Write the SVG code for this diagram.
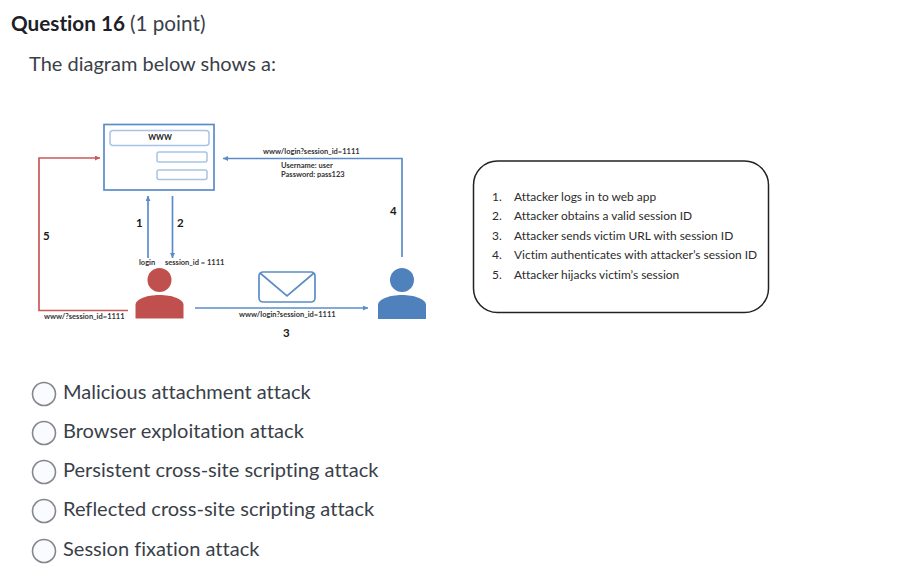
<svg xmlns="http://www.w3.org/2000/svg" width="900" height="573" viewBox="0 0 900 573">
<style>
text{font-family:Lato,"Open Sans",sans-serif;font-variant-ligatures:none}
.b{fill:none;stroke:#5b8cc8;stroke-width:1.7}
.bl{fill:none;stroke:#a9c3e6;stroke-width:1.5}
.r{fill:none;stroke:#c9585a;stroke-width:1.7}
.t{font-size:7.500px;fill:#333;font-weight:700}
.n{font-size:11.500px;fill:#1a1a1a;font-weight:700}
.l{font-size:11.950px;fill:#2b2b2b}
.o{font-size:20.050px;fill:#3a3f4a}
.c{fill:#fafbff;stroke:#85878c;stroke-width:1.6}
</style>
<defs>
<marker id="ab" markerWidth="6" markerHeight="6" refX="5" refY="2.500" orient="auto" markerUnits="userSpaceOnUse"><path d="M0 0L5 2.500L0 5Z" fill="#5b8cc8"/></marker>
<marker id="ar" markerWidth="6" markerHeight="6" refX="5" refY="2.500" orient="auto" markerUnits="userSpaceOnUse"><path d="M0 0L5 2.500L0 5Z" fill="#c9585a"/></marker>
</defs>
<rect width="900" height="573" fill="#fff"/>
<text x="11" y="31" font-size="20.700" fill="#1d2026" style="font-weight:700">Question 16 <tspan style="font-weight:400" fill="#3a3f4a">(1 point)</tspan></text>
<text x="29" y="71" font-size="20" fill="#3a3f4a">The diagram below shows a:</text>

<g id="connectors">
<path class="r" d="M128 310.500H39V158H100" marker-end="url(#ar)"/>
<path class="b" d="M402 257V158.500H223" marker-end="url(#ab)"/>
<path class="b" d="M148 258V196" marker-end="url(#ab)"/>
<path class="b" d="M172.500 196V258" marker-end="url(#ab)"/>
<path class="b" d="M195 308H368" marker-end="url(#ab)"/>
</g>

<g id="browser">
<rect x="104" y="124.500" width="110" height="65.500" fill="#fff" stroke="#5b8cc8" stroke-width="1.700"/>
<rect class="bl" x="110" y="130.500" width="99" height="15" rx="3"/>
<text x="160" y="140" text-anchor="middle" font-size="7.500" fill="#222" style="font-weight:700">WWW</text>
<rect class="bl" x="157" y="152" width="50" height="10" rx="2"/>
<rect class="bl" x="157" y="170" width="50" height="9.500" rx="2"/>
</g>

<g id="attacker">
<circle cx="159.500" cy="280" r="12" fill="#c0504d"/>
<path d="M135.500 318.500V305C135.500 299 147 295 159.500 295S183.500 299 183.500 305V318.500Z" fill="#c0504d"/>
</g>
<g id="victim">
<circle cx="402" cy="280" r="12" fill="#4f81bd"/>
<path d="M378 319V305C378 299 390 295 402 295S426 299 426 305V319Z" fill="#4f81bd"/>
</g>
<g id="envelope">
<rect x="259" y="272" width="56" height="30" rx="4" fill="#fff" stroke="#5b8cc8" stroke-width="1.700"/>
<path class="b" d="M260 273L287 296L314 273"/>
</g>

<g id="labels">
<text class="n" x="136" y="227">1</text>
<text class="n" x="177" y="227">2</text>
<text class="n" x="390" y="215">4</text>
<text class="n" x="43" y="240">5</text>
<text class="n" x="283" y="337">3</text>
<text class="t" x="139" y="265">login</text>
<text class="t" x="165" y="265">session_id = 1111</text>
<text class="t" x="44" y="319">www/?session_id=1111</text>
<text class="t" x="263" y="154">www/login?session_id=1111</text>
<text class="t" x="281" y="168">Username: user</text>
<text class="t" x="281" y="177">Password: pass123</text>
<text class="t" x="239" y="317">www/login?session_id=1111</text>
</g>

<g id="steps">
<rect x="473.500" y="161" width="295" height="151.500" rx="24" fill="#fff" stroke="#222" stroke-width="1.500"/>
<text class="l" x="492" y="201">1.</text><text class="l" x="514" y="201">Attacker logs in to web app</text>
<text class="l" x="492" y="220">2.</text><text class="l" x="514" y="220">Attacker obtains a valid session ID</text>
<text class="l" x="492" y="240">3.</text><text class="l" x="514" y="240">Attacker sends victim URL with session ID</text>
<text class="l" x="492" y="259">4.</text><text class="l" x="514" y="259">Victim authenticates with attacker’s session ID</text>
<text class="l" x="492" y="279">5.</text><text class="l" x="514" y="279">Attacker hijacks victim’s session</text>
</g>

<g id="option1"><circle class="c" cx="44" cy="394" r="11.500"/><text class="o" x="63" y="399">Malicious attachment attack</text></g>
<g id="option2"><circle class="c" cx="44" cy="433" r="11.500"/><text class="o" x="63" y="438">Browser exploitation attack</text></g>
<g id="option3"><circle class="c" cx="44" cy="472" r="11.500"/><text class="o" x="63" y="477">Persistent cross-site scripting attack</text></g>
<g id="option4"><circle class="c" cx="44" cy="511" r="11.500"/><text class="o" x="63" y="516">Reflected cross-site scripting attack</text></g>
<g id="option5"><circle class="c" cx="44" cy="551" r="11.500"/><text class="o" x="63" y="556">Session fixation attack</text></g>
</svg>
